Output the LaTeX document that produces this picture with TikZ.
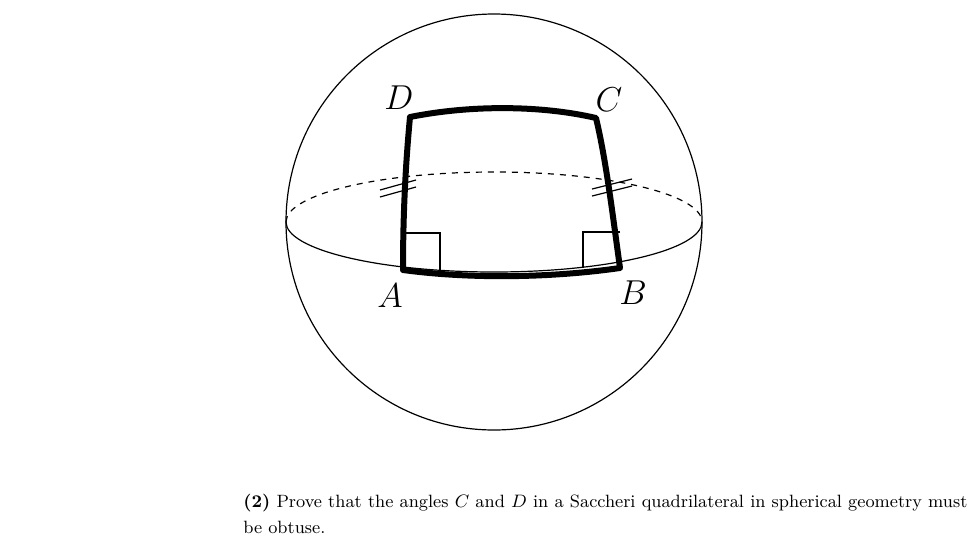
\documentclass[tikz,border=0pt]{standalone}
\begin{document}
\begin{tikzpicture}[x=0.5pt,y=-0.5pt,
  thin line/.style={line width=0.6pt},
  quad/.style={line width=3pt,line join=round},
  lab/.style={font=\fontsize{16}{18}\selectfont}]
\useasboundingbox (0,0) rectangle (970,537);
\coordinate (O) at (494,222);
\draw[thin line] (O) circle[radius=208];
\draw[thin line] (286,222) arc[start angle=180,end angle=360,x radius=208,y radius=-50];
\draw[thin line,dashed] (286,222) arc[start angle=180,end angle=0,x radius=208,y radius=-50];
\coordinate (A) at (403,270);
\coordinate (B) at (620,268);
\coordinate (C) at (596,118);
\coordinate (D) at (410,117);
\draw[thin line] (A) ++(0,-37) -- ++(37,0) -- ++(0,37);
\draw[thin line] (B) ++(0,-36) -- ++(-37,0) -- ++(0,36);
\draw[quad] (A) .. controls (470,279) and (550,278) .. (B)
  .. controls (612,210) and (606,160) .. (C)
  .. controls (540,105) and (470,105) .. (D)
  .. controls (405,170) and (403,220) .. cycle;
\draw[thin line] (380,190) -- (416,180);
\draw[thin line] (380,197) -- (416,187);
\draw[thin line] (592,189) -- (632,179);
\draw[thin line] (592,196) -- (632,186);
\node[lab] (dl) at (399,98) {$D$};
\node[lab] (cl) at (609,100) {$C$};
\node[lab] (al) at (390,296) {$A$};
\node[lab] (bl) at (633,293) {$B$};
\node[anchor=north west,inner sep=0pt,text width=362pt,align=justify,
  font=\fontsize{8.9}{12.8}\selectfont] (txt) at (243,494)
  {\textbf{(2)} Prove that the angles $C$ and $D$ in a Saccheri quadrilateral in spherical geometry must be obtuse.};
\end{tikzpicture}
\end{document}
